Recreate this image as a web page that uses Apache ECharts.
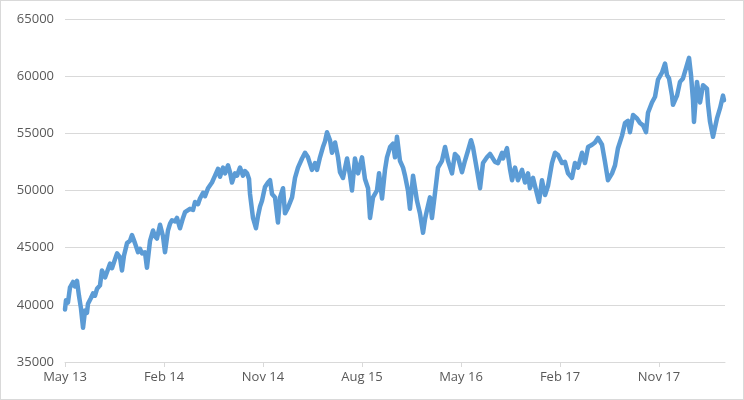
<!DOCTYPE html>
<html>
<head>
<meta charset="utf-8">
<script src="https://cdn.jsdelivr.net/npm/echarts@6/dist/echarts.min.js"></script>
<style>
html,body{margin:0;padding:0;background:#fff;}
#frame{width:742px;height:398px;border:1px solid #d9d9d9;position:relative;overflow:hidden;}
#chart{position:absolute;left:-1px;top:-1px;width:744px;height:400px;}
</style>
</head>
<body>
<div id="frame"><div id="chart"></div></div>
<script>
// x positions: months since May 2013
const months = [0,0.09,0.27,0.45,0.73,0.91,1.09,1.27,1.45,1.64,1.82,2.00,2.09,2.36,2.55,2.73,2.91,3.18,3.36,3.64,3.82,4.09,4.27,4.55,4.73,5.00,5.18,5.36,5.64,5.91,6.09,6.36,6.64,6.82,7.00,7.27,7.45,7.73,8.00,8.18,8.36,8.64,8.91,9.09,9.36,9.55,9.73,
10.00,10.18,10.45,10.73,10.91,11.36,11.64,11.82,12.09,12.27,12.55,12.73,13.00,13.36,13.64,13.91,14.09,14.27,14.36,14.55,14.82,15.00,15.18,15.45,15.64,15.91,16.18,16.36,16.55,16.73,16.82,17.09,17.27,17.36,17.55,17.73,17.91,18.18,18.45,18.64,18.82,19.09,19.36,19.55,19.82,
20.00,20.27,20.64,20.91,21.18,21.55,21.82,22.09,22.45,22.73,22.91,23.18,23.45,23.64,23.82,24.09,24.27,24.55,24.82,25.00,25.27,25.64,25.91,26.09,26.36,26.64,27.00,27.27,27.55,27.73,28.00,28.36,28.55,28.82,29.09,29.27,29.55,29.82,
30.00,30.18,30.45,30.73,30.91,31.18,31.36,31.64,31.82,32.00,32.27,32.55,32.73,32.91,33.18,33.36,33.64,33.91,34.27,34.55,34.82,35.18,35.45,35.73,36.09,36.36,36.64,36.91,37.09,37.45,37.73,38.00,38.36,38.64,39.09,39.36,39.73,39.82,
40.18,40.45,40.64,40.91,41.18,41.55,41.82,42.09,42.27,42.55,42.91,43.09,43.36,43.64,43.91,44.27,44.55,44.82,45.18,45.45,45.73,46.09,46.36,46.64,47.00,47.27,47.55,47.91,48.18,48.45,48.82,49.09,49.36,49.73,
50.00,50.27,50.64,50.91,51.18,51.36,51.64,52.00,52.27,52.55,52.82,53.00,53.36,53.64,53.91,54.27,54.55,54.73,54.91,55.18,55.27,55.64,55.91,56.18,56.55,56.73,56.91,57.09,57.18,57.45,57.73,58.00,58.36,58.45,58.64,58.91,59.27,59.55,59.82,59.91];

const values = [39600,40400,40200,41500,42000,41600,42100,40800,39700,38000,39500,39300,40100,40600,41000,40800,41400,41700,43000,42400,42500,43600,43200,44000,44500,44150,43000,44300,45400,45600,46100,45400,44600,44900,44500,44600,43250,45600,46500,46000,45800,47000,46000,44600,46500,47100,47400,
47300,47600,46700,47600,48100,48400,48300,49000,48800,49300,49800,49500,50200,50700,51300,51900,51200,51750,52000,51500,52200,51600,50700,51500,51300,52000,51300,51700,51500,51000,49700,47600,47500,46700,47800,48600,49100,50300,50700,50900,49700,49400,47200,49400,50200,
48000,48500,49400,51100,52000,52800,53300,52900,51800,52400,51800,52900,53800,54300,55100,54400,53300,54200,52900,51600,51100,52800,51300,50000,52800,51500,52900,51000,50200,47600,49400,50000,51500,49300,51800,52900,53800,54100,
52900,54700,52600,52000,51300,50000,48400,51300,50200,49100,48000,46300,47500,48300,49400,47600,49800,52000,52600,53800,52600,51500,53200,52900,51600,52600,53500,54400,53800,51800,50200,52400,52900,53200,52500,52400,53300,52800,
53700,51900,50900,52000,50900,51800,50700,51500,50200,51100,49700,49000,50900,49600,50400,52400,53300,53100,52400,52500,51500,51100,52400,52000,53300,52400,53800,54000,54200,54600,54000,52500,50900,51500,
52200,53700,54800,55900,56100,55100,56600,56300,55900,55700,55100,56800,57700,58200,59700,60300,61100,60100,59800,58300,57500,58300,59500,59800,61000,61600,60100,57900,56000,59500,57700,59200,58900,57600,56000,54700,56300,57200,58300,57900];

const tickMonths = [0, 9, 18, 27, 36, 45, 54];
const tickLabels = ['May 13', 'Feb 14', 'Nov 14', 'Aug 15', 'May 16', 'Feb 17', 'Nov 17'];

const yMin = 35000, yMax = 65000, yStep = 5000;

const chart = echarts.init(document.getElementById('chart'), null, {renderer: 'canvas'});
const seriesData = months.map((m, i) => [m, values[i]]);

chart.setOption({
  animation: false,
  backgroundColor: 'transparent',
  grid: {left: 65, right: 19, top: 19, bottom: 38, containLabel: false},
  xAxis: {
    type: 'value',
    min: 0,
    max: 60,
    interval: 9,
    axisLine: {show: true, lineStyle: {color: '#d9d9d9', width: 1}},
    axisTick: {show: true, length: 5, lineStyle: {color: '#d9d9d9'}, customValues: tickMonths},
    axisLabel: {
      customValues: tickMonths,
      color: '#595959',
      fontFamily: 'Open Sans',
      fontSize: 13,
      margin: 9,
      formatter: v => { const i = tickMonths.indexOf(Math.round(v)); return i >= 0 ? tickLabels[i] : ''; }
    },
    splitLine: {show: false}
  },
  yAxis: {
    type: 'value',
    min: yMin,
    max: yMax,
    interval: yStep,
    axisLine: {show: false},
    axisTick: {show: false},
    axisLabel: {color: '#595959', fontFamily: 'Open Sans', fontSize: 13, margin: 11, formatter: v => String(v)},
    splitLine: {show: true, lineStyle: {color: '#d9d9d9', width: 1}}
  },
  series: [{
    type: 'line',
    data: seriesData,
    showSymbol: false,
    symbol: 'none',
    smooth: false,
    lineStyle: {color: '#5b9bd5', width: 4.5, join: 'round', cap: 'round'},
    itemStyle: {color: '#5b9bd5'}
  }]
});
</script>
</body>
</html>
